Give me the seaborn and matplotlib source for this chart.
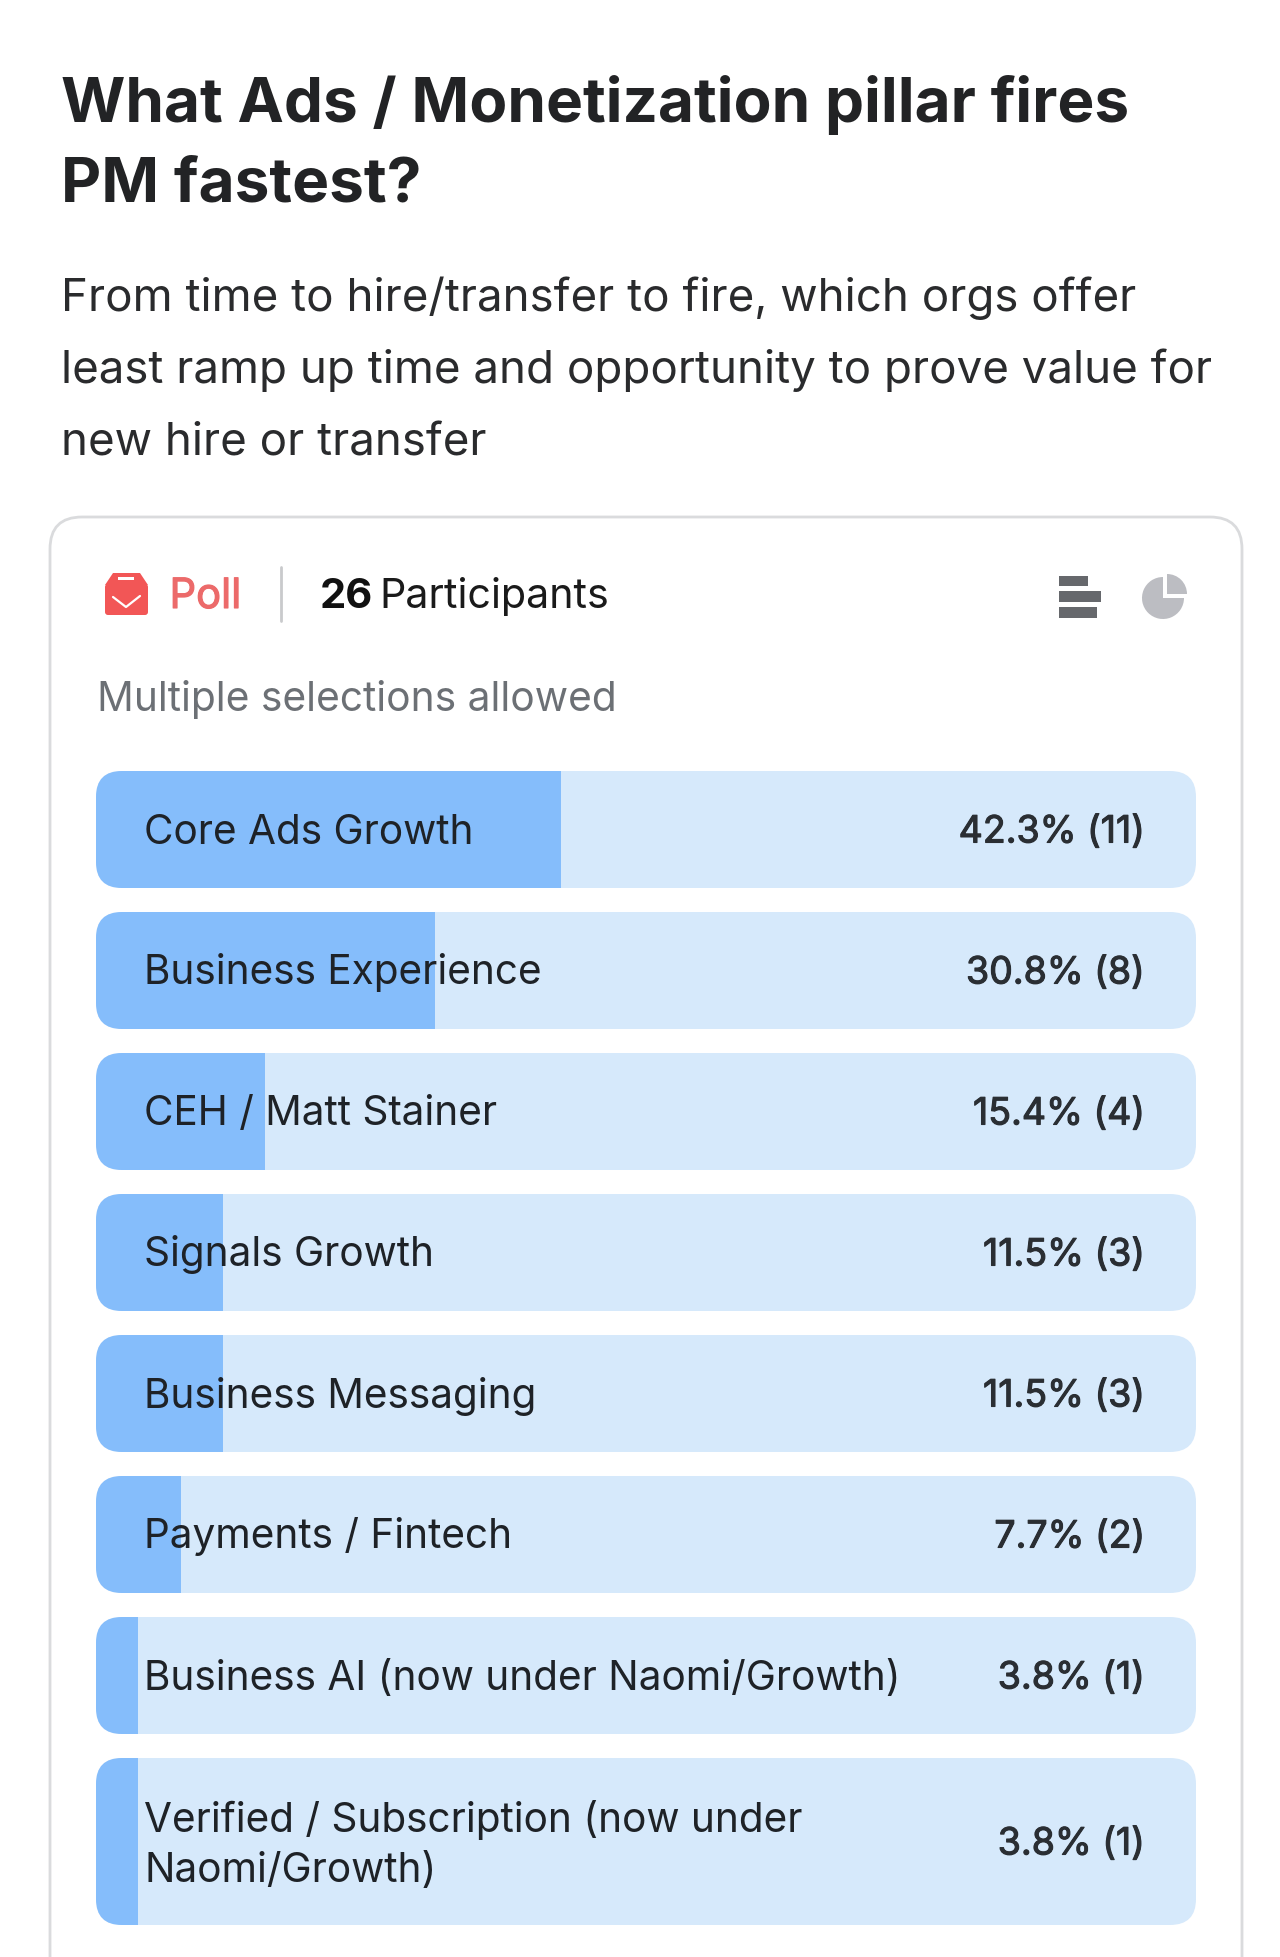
"""
Poll card: which Ads / Monetization pillar fires PM fastest.
"""

import matplotlib
matplotlib.use("Agg")
import matplotlib.pyplot as plt
import matplotlib.patheffects as pe
import seaborn as sns
from matplotlib.patches import FancyBboxPatch, Rectangle, Wedge, Polygon

# ---------------------------------------------------------------------------
# Data
# ---------------------------------------------------------------------------

TITLE_LINES = ["What Ads / Monetization pillar fires", "PM fastest?"]
BODY_LINES = [
    "From time to hire/transfer to fire, which orgs offer",
    "least ramp up time and opportunity to prove value for",
    "new hire or transfer",
]
OPTIONS = [
    "Core Ads Growth",
    "Business Experience",
    "CEH / Matt Stainer",
    "Signals Growth",
    "Business Messaging",
    "Payments / Fintech",
    "Business AI (now under Naomi/Growth)",
    "Verified / Subscription (now under\nNaomi/Growth)",
]
PERCENTS = [42.3, 30.8, 15.4, 11.5, 11.5, 7.7, 3.8, 3.8]
VOTES = [11, 8, 4, 3, 3, 2, 1, 1]

# ---------------------------------------------------------------------------
# Style (everything below in reference pixels)
# ---------------------------------------------------------------------------

W, H = 1280, 1957
FILL = "#85BDFB"
TRACK = "#D6E9FB"
INK = "#1E2227"
ROW_LEFT, ROW_RIGHT = 96, 1196
ROW_TOPS = [771, 912, 1053, 1194, 1335, 1476, 1617, 1758]
ROW_HEIGHTS = [117, 117, 117, 117, 117, 117, 117, 167]

sns.set_theme(style="white")
plt.rcParams["font.family"] = ["Inter", "DejaVu Sans"]

fig = plt.figure(figsize=(W / 100, H / 100), dpi=100, facecolor="white")


def pixel_axes(zorder):
    ax = fig.add_axes([0, 0, 1, 1], zorder=zorder)
    ax.set_xlim(0, W)
    ax.set_ylim(H, 0)
    ax.axis("off")
    return ax


def thicken(text, width, color):
    # Inter only comes in regular and bold here, so fake the medium weight
    text.set_path_effects([pe.withStroke(linewidth=width, foreground=color)])


back = pixel_axes(0)
front = pixel_axes(5)

# Card outline, runs off the bottom of the picture
back.add_patch(FancyBboxPatch((50, 517), 1192, 1600, boxstyle="round,pad=0,rounding_size=32",
                              fc="white", ec="#DADBDD", lw=2))

# ---------------------------------------------------------------------------
# Bars
# ---------------------------------------------------------------------------

for i, (label, pct, n) in enumerate(zip(OPTIONS, PERCENTS, VOTES)):
    top, height = ROW_TOPS[i], ROW_HEIGHTS[i]
    track = FancyBboxPatch((ROW_LEFT, top), ROW_RIGHT - ROW_LEFT, height,
                           boxstyle="round,pad=0,rounding_size=26", fc=TRACK, ec="none")
    back.add_patch(track)

    ax = fig.add_axes([ROW_LEFT / W, 1 - (top + height) / H, (ROW_RIGHT - ROW_LEFT) / W, height / H],
                      zorder=2)
    ax.patch.set_alpha(0)
    sns.barplot(x=[pct], y=[label], color=FILL, width=1, saturation=1, linewidth=0, ax=ax)
    ax.set_xlim(0, 100)
    ax.set_ylim(0.5, -0.5)
    ax.axis("off")
    for bar in ax.patches:
        bar.set_clip_path(track)

    center = top + height / 2
    if "\n" in label:
        first, second = label.split("\n")
        front.text(144.5, center + 14 - 24, first, fontsize=29.2, color=INK)
        front.text(144.5, center + 14 + 26, second, fontsize=29.2, color=INK)
    else:
        front.text(144.5, center + 14, label, fontsize=29.2, color=INK)
    value = front.text(1145, center + 13, f"{pct}% ({n})", fontsize=27, color="#2A2E33", ha="right")
    thicken(value, 0.8, "#2A2E33")

# ---------------------------------------------------------------------------
# Heading text
# ---------------------------------------------------------------------------

for y, line in zip([122, 201], TITLE_LINES):
    front.text(61, y, line, fontsize=44.7, fontweight="bold", color="#222325")
for y, line in zip([311, 383, 455], BODY_LINES):
    front.text(61, y, line, fontsize=32.9, color="#2A2B2D")

poll = front.text(169.5, 608, "Poll", fontsize=30, color="#EC6A6A")
thicken(poll, 0.8, "#EC6A6A")
front.text(320, 608, "26", fontsize=30, fontweight="bold", color="#111111")
front.text(379, 608, "Participants", fontsize=29.7, color="#1A1A1A")
front.text(97, 711, "Multiple selections allowed", fontsize=29.3, color="#6C7075")

back.plot([281, 281], [567, 621], color="#C9CACC", lw=2)

# ---------------------------------------------------------------------------
# Icons
# ---------------------------------------------------------------------------

RED = "#F25656"
back.add_patch(FancyBboxPatch((105, 584), 43, 31, boxstyle="round,pad=0,rounding_size=3", fc=RED, ec="none"))
back.add_patch(Polygon([(105, 585), (113, 573), (140, 573), (148, 585)], fc=RED, ec="none"))
back.add_patch(Rectangle((118, 577), 16, 3, fc="white", ec="none"))
back.plot([113, 126, 140], [597, 607, 596], color="white", lw=1.6)

for x0, x1, y0, y1 in [(1059, 1088, 576, 586), (1059, 1101, 591, 602), (1059, 1097, 607, 618)]:
    back.add_patch(Rectangle((x0, y0), x1 - x0, y1 - y0, fc="#66686C", ec="none"))

back.add_patch(Wedge((1163, 598), 21, 0, 270, fc="#BCBDC2", ec="none"))
back.add_patch(Wedge((1167, 594), 20, 270, 360, fc="#BCBDC2", ec="none"))

fig.savefig("out.png", dpi=100)
